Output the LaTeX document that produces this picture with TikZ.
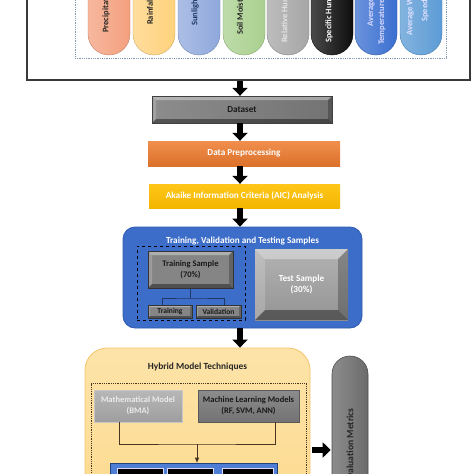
\documentclass[tikz,border=0pt]{standalone}
\usepackage{fontspec}
\setmainfont{Carlito}
\usetikzlibrary{arrows.meta,calc}
\definecolor{outl}{HTML}{3A3A3A}
\definecolor{dotc}{HTML}{8497B0}
\definecolor{c1}{HTML}{F4A07E}
\definecolor{c2}{HTML}{FFD27C}
\definecolor{c3}{HTML}{8FA8DC}
\definecolor{c4}{HTML}{A9D08E}
\definecolor{c5}{HTML}{A6A6A6}
\definecolor{c6}{HTML}{0D0D0D}
\definecolor{c7}{HTML}{3A6FD0}
\definecolor{c8}{HTML}{5B9BD5}
\definecolor{orng}{HTML}{EE7B2E}
\definecolor{gold}{HTML}{FFC000}
\definecolor{bluebox}{HTML}{3C6DC8}
\definecolor{blueedge}{HTML}{2E5AAE}
\definecolor{tan}{HTML}{FDDA8C}
\definecolor{tanedge}{HTML}{F4C46B}
\definecolor{brownl}{HTML}{4A3520}
\definecolor{navyl}{HTML}{1F3864}
\tikzset{
  pill/.style={rounded corners=21pt, minimum width=42pt, minimum height=100pt, inner sep=0pt,
    draw=#1!80!black, line width=0.4pt, left color=#1!75!white, right color=#1},
  pilltext/.style={rotate=90, anchor=west, inner sep=0pt, font=\bfseries\fontsize{8.5}{10}\selectfont},
  blockarrow/.style={line width=6.5pt, -{Triangle[width=15pt,length=8pt]}, black},
  bevel/.style={path picture={
    \coordinate (bbsw) at (path picture bounding box.south west);
    \coordinate (bbne) at (path picture bounding box.north east);
    \coordinate (bbnw) at (path picture bounding box.north west);
    \coordinate (bbse) at (path picture bounding box.south east);
    \fill[white,opacity=.35] (bbnw) -- (bbne) -- ($(bbne)+(-#1,-#1)$) -- ($(bbnw)+(#1,-#1)$) -- cycle;
    \fill[white,opacity=.18] (bbnw) -- (bbsw) -- ($(bbsw)+(#1,#1)$) -- ($(bbnw)+(#1,-#1)$) -- cycle;
    \fill[black,opacity=.25] (bbne) -- (bbse) -- ($(bbse)+(-#1,#1)$) -- ($(bbne)+(-#1,-#1)$) -- cycle;
    \fill[black,opacity=.4] (bbsw) -- (bbse) -- ($(bbse)+(-#1,#1)$) -- ($(bbsw)+(#1,#1)$) -- cycle;
  }},
  flatbox/.style={inner sep=0pt, align=center},
}
\begin{document}
\begin{tikzpicture}[x=1pt,y=1pt,font=\bfseries\fontsize{9.2}{11}\selectfont]
\path[use as bounding box] (0,0) rectangle (474,-474);
\clip (0,0) rectangle (474,-474);
% ---------- input variables box
\node[draw=outl, line width=1.8pt, minimum width=443pt, minimum height=110pt, inner sep=0pt] (inputs) at (248.5,-25) {};
\node[draw=dotc, densely dotted, line width=0.8pt, minimum width=371pt, minimum height=90pt, inner sep=0pt] (dots) at (260.5,-13) {};
\node[pill=c1] (p1) at (109,-5) {};
\node[pill=c2] (p2) at (154,-5) {};
\node[pill=c3] (p3) at (199,-5) {};
\node[pill=c4] (p4) at (244,-5) {};
\node[pill=c5] (p5) at (288,-5) {};
\node[pill=c6] (p6) at (332,-5) {};
\node[pill=c7] (p7) at (376,-5) {};
\node[pill=c8] (p8) at (421,-5) {};
\node[pilltext, text=black!85] (t1) at (106,-33) {Precipitation};
\node[pilltext, text=black!85] (t2) at (150,-25) {Rainfall};
\node[pilltext, text=navyl] (t3) at (195,-26) {Sunlight};
\node[pilltext, text=black!85] (t4) at (240,-35) {Soil Moisture};
\node[pilltext, text=white!90!black] (t5) at (285,-43) {Relative Humidity};
\node[pilltext, text=white] (t6) at (329,-43) {Specific Humidity};
\node[pilltext, text=white!85!blue] (t7a) at (371,-27) {Average};
\node[pilltext, text=white!85!blue] (t7b) at (382,-45) {Temperature};
\node[pilltext, text=white!88!blue] (t8a) at (410,-36) {Average Wind};
\node[pilltext, text=white!88!blue] (t8b) at (425,-22) {Speed};
% ---------- main flow
\coordinate (ax) at (240,0);
\node[flatbox, bevel=4, draw=black!75, left color=black!45, right color=black!55, minimum width=180pt, minimum height=27pt, text=black!90] (dataset) at (242,-109.5) {Dataset};
\node[flatbox, top color=orng!85!white, bottom color=orng!92!black, minimum width=192pt, minimum height=25pt, text=white] (prep) at (244,-153.5) {Data Preprocessing};
\node[flatbox, top color=gold!90!white, bottom color=gold!95!black, minimum width=191pt, minimum height=24pt, text=white] (aic) at (244.5,-196) {Akaike Information Criteria (AIC) Analysis};
\draw[blockarrow] (inputs.south -| ax) -- (dataset.north -| ax);
\draw[blockarrow] (dataset.south -| ax) -- (prep.north -| ax);
\draw[blockarrow] (prep.south -| ax) -- (aic.north -| ax);
% ---------- samples box
\node[fill=bluebox, draw=blueedge, line width=0.8pt, rounded corners=12pt, minimum width=239pt, minimum height=101pt, inner sep=0pt] (samples) at (242.5,-277.5) {};
\node[text=white, inner sep=0pt] (samplestitle) at (242.5,-241) {Training, Validation and Testing Samples};
\draw[blockarrow] (aic.south -| ax) -- (samples.north -| ax);
\node[draw=black, dashed, line width=0.7pt, minimum width=108pt, minimum height=74pt, inner sep=0pt] (trgroup) at (191,-283) {};
\node[flatbox, bevel=4, draw=black!80, fill=black!48, minimum width=85pt, minimum height=37pt, text=black!90, font=\bfseries\fontsize{8.5}{10.5}\selectfont] (trainS) at (190.5,-269.5) {Training Sample\\(70\%)};
\node[flatbox, bevel=2, draw=black!80, fill=black!48, minimum width=44pt, minimum height=13pt, text=black!90, font=\bfseries\fontsize{7.6}{8}\selectfont] (training) at (170,-311.5) {Training};
\node[flatbox, bevel=2, draw=black!80, fill=black!48, minimum width=45pt, minimum height=13pt, text=black!90, font=\bfseries\fontsize{7.6}{8}\selectfont] (validation) at (218.5,-311.5) {Validation};
\coordinate (trj) at (0,-298);
\draw[navyl, line width=0.7pt] (trainS.south) -- (trainS.south |- trj);
\draw[navyl, line width=0.7pt] ([xshift=-8pt]training.north) |- (trainS.south |- trj) -| ([xshift=6pt]validation.north);
\node[flatbox, bevel=10, top color=black!30, bottom color=black!42, minimum width=93pt, minimum height=71pt, text=white] (test) at (301.5,-284.5) {Test Sample\\(30\%)};
% ---------- hybrid box
\node[top color=tan!75!white, bottom color=tan, draw=tanedge, line width=0.8pt, rounded corners=22pt, minimum width=225pt, minimum height=180pt, inner sep=0pt] (hybrid) at (197.5,-438) {};
\draw[blockarrow] (samples.south -| ax) -- (hybrid.north -| ax);
\node[text=black!85, inner sep=0pt, font=\bfseries\fontsize{9.4}{11}\selectfont] (hybtitle) at (197.5,-367) {Hybrid Model Techniques};
\node[draw=brownl, densely dotted, line width=0.8pt, minimum width=215pt, minimum height=140pt, inner sep=0pt] (hybdots) at (198.5,-453) {};
\node[flatbox, top color=black!28, bottom color=black!38, draw=black!22, minimum width=88pt, minimum height=32pt, text=white!92!black, font=\bfseries\fontsize{8.5}{11}\selectfont] (math) at (138,-406) {Mathematical Model\\(BMA)};
\node[flatbox, top color=black!45, bottom color=black!55, draw=black!65, minimum width=101pt, minimum height=32pt, text=black!90, font=\bfseries\fontsize{8.5}{11}\selectfont] (ml) at (248.5,-406) {Machine Learning Models\\(RF, SVM, ANN)};
\coordinate (hj) at (197,-444);
\draw[brownl, line width=0.9pt] ([xshift=-19pt]math.south) |- (hj) -| ([xshift=26.5pt]ml.south);
\node[fill=c7!90!white, draw=c7!60!black, line width=0.6pt, minimum width=167pt, minimum height=60pt, inner sep=0pt] (bar) at (193.5,-493) {};
\draw[brownl, line width=0.9pt, -{Triangle[length=5pt,width=4pt]}] (hj) -- (bar.north -| hj);
\node[fill=black, draw=white!85!blue, line width=0.8pt, minimum width=46pt, minimum height=40pt, inner sep=0pt] (m1) at (140,-488) {};
\node[fill=black, draw=white!85!blue, line width=0.8pt, minimum width=46pt, minimum height=40pt, inner sep=0pt] (m2) at (190,-488) {};
\node[fill=black, draw=white!85!blue, line width=0.8pt, minimum width=51pt, minimum height=40pt, inner sep=0pt] (m3) at (247.5,-488) {};
% ---------- evaluation metrics
\node[left color=black!45, right color=black!58, draw=black!70, line width=0.6pt, rounded corners=18pt, minimum width=36pt, minimum height=200pt, inner sep=0pt] (eval) at (350,-456) {};
\node[rotate=90, anchor=east, inner sep=0pt, text=black!85, font=\bfseries\fontsize{9.6}{11}\selectfont] (evaltext) at (350,-408) {Evaluation Metrics};
\coordinate (ea) at (0,-450);
\draw[blockarrow] ([xshift=2pt]hybrid.east |- ea) -- ([xshift=-1pt]eval.west |- ea);
\end{tikzpicture}
\end{document}
